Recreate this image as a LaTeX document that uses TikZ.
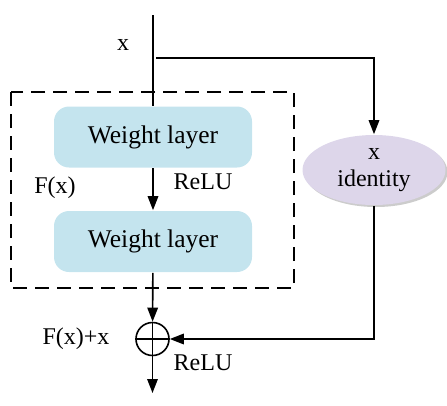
\documentclass[tikz,border=0pt]{standalone}
\usepackage{fontspec}
\setmainfont{Liberation Serif}
\usepackage{xcolor}
\usetikzlibrary{arrows.meta,positioning,calc,shapes.geometric,shadows}
\definecolor{layerblue}{RGB}{196,228,238}
\definecolor{identlilac}{RGB}{221,214,234}

\begin{document}
\begin{tikzpicture}[x=1pt,y=-1pt,>={Triangle[length=14pt,width=10.5pt]},line width=1.6pt,
  every node/.style={font=\fontsize{24}{27}\selectfont},
  layer/.style={fill=layerblue,rounded corners=15pt,minimum width=198pt,minimum height=61pt,inner sep=0pt,
    font=\fontsize{25.5}{28}\selectfont},
  identity/.style={ellipse,fill=identlilac,minimum width=143pt,minimum height=70pt,inner sep=0pt,align=center,
    drop shadow={shadow xshift=2pt,shadow yshift=-2pt,fill=gray!80}},
  sumnode/.style={circle,draw,minimum size=33pt,inner sep=0pt},
  blockbox/.style={dashed,dash pattern=on 14pt off 8pt,line width=2pt}]
\useasboundingbox (0,0) rectangle (447,405);
\begin{scope}
% residual block
\draw[blockbox] (11,92) rectangle (294,288);
\node[layer] (wl1) at (153,137) {Weight layer};
\node[layer] (wl2) at (153,241.5) {Weight layer};
\node[sumnode] (sum) at (152.5,339) {};
\draw (sum.north)--(sum.south);
\draw (sum.west)--(sum.east);
\node[identity] (ident) at (374,170) {x\\identity};
\coordinate (in) at (153,15);
\coordinate (split) at (156,58);
\coordinate (out) at (152.5,393);
% connections
\draw (in) -- (wl1.north);
\draw[->] (split) -| (ident.north);
\draw[->] (wl1) -- (wl2);
\draw[->] (wl2) -- (sum);
\draw[->] (sum) -- (out);
\draw[->] (ident.south) |- (sum.east);
% labels
\node (xlab) at (123,45) {x};
\node (relu1) at (203,182) {ReLU};
\node (fx) at (55,188) {F(x)};
\node (fxx) at (76,339) {F(x)+x};
\node (relu2) at (203,363) {ReLU};
\end{scope}
\end{tikzpicture}
\end{document}
